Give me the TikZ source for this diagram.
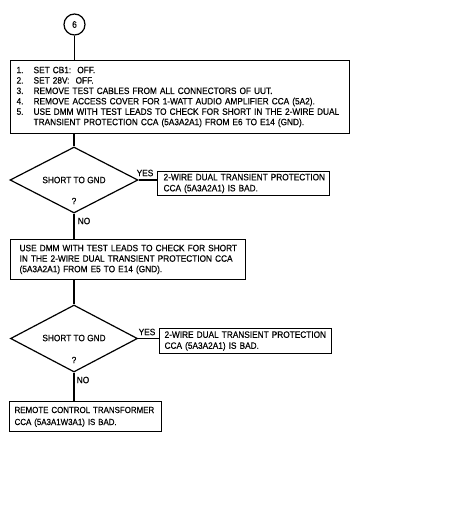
\documentclass[tikz,border=0pt]{standalone}
\usepackage{fontspec}
\setmainfont[FakeStretch=0.9,FakeBold=0.4]{Liberation Sans}
\usetikzlibrary{shapes.geometric}
\begin{document}
\begin{tikzpicture}[x=1pt,y=-1pt,
  txt/.style={font=\fontsize{9.2}{10.4}\selectfont},
  box/.style={draw, line width=1.2pt, anchor=north west, inner ysep=0pt, align=left, txt},
  dia/.style={draw, diamond, line width=1.2pt, inner sep=0pt},
  lbl/.style={inner sep=0pt, txt},
  conn/.style={line width=1.2pt}]
\useasboundingbox (0,0) rectangle (474,509);

\node[draw, circle, line width=1.2pt, minimum size=21pt, inner sep=0pt, font=\fontsize{9.5}{10}\selectfont] (c6) at (74.5,24.5) {6};

\node[box, inner xsep=6pt, text width=327pt, minimum height=73pt] (b1) at (10,60)
 {\begin{tabular}{@{}p{17pt}@{}l@{}}
 1. & SET CB1:\ \ OFF.\\
 2. & SET 28V:\ \ OFF.\\
 3. & REMOVE TEST CABLES FROM ALL CONNECTORS OF UUT.\\
 4. & REMOVE ACCESS COVER FOR 1-WATT AUDIO AMPLIFIER CCA (5A2).\\
 5. & USE DMM WITH TEST LEADS TO CHECK FOR SHORT IN THE 2-WIRE DUAL\\
    & TRANSIENT PROTECTION CCA (5A3A2A1) FROM E6 TO E14 (GND).
 \end{tabular}};

\node[dia, minimum width=128pt, minimum height=66pt] (d1) at (74,180) {};
\node[lbl] (d1t) at (74,180) {SHORT TO GND};
\node[lbl] (d1q) at (74,201) {?};
\node[lbl] (yes1) at (145,173) {YES};
\node[lbl] (no1) at (84,221) {NO};

\node[box, inner xsep=6pt, text width=160pt, minimum height=24pt, font=\fontsize{9.2}{11}\selectfont] (y1) at (157,171)
 {\begin{tabular}{@{}l@{}}
 2-WIRE DUAL TRANSIENT PROTECTION\\
 CCA (5A3A2A1) IS BAD.
 \end{tabular}};

\node[box, inner xsep=9pt, text width=217pt, minimum height=40pt, font=\fontsize{9.2}{10.5}\selectfont] (b2) at (10,239)
 {\begin{tabular}{@{}l@{}}
 USE DMM WITH TEST LEADS TO CHECK FOR SHORT\\
 IN THE 2-WIRE DUAL TRANSIENT PROTECTION CCA\\
 (5A3A2A1) FROM E5 TO E14 (GND).
 \end{tabular}};

\node[dia, minimum width=127pt, minimum height=67pt] (d2) at (74,338.5) {};
\node[lbl] (d2t) at (74,338) {SHORT TO GND};
\node[lbl] (d2q) at (74,360) {?};
\node[lbl] (yes2) at (147,332) {YES};
\node[lbl] (no2) at (83,380) {NO};

\node[box, inner xsep=5pt, text width=162pt, minimum height=25pt, font=\fontsize{9.2}{11}\selectfont] (y2) at (159,328)
 {\begin{tabular}{@{}l@{}}
 2-WIRE DUAL TRANSIENT PROTECTION\\
 CCA (5A3A2A1) IS BAD.
 \end{tabular}};

\node[box, inner xsep=5pt, text width=142pt, minimum height=30pt, font=\fontsize{8.8}{12}\selectfont] (b3) at (9,401)
 {\begin{tabular}{@{}l@{}}
 REMOTE CONTROL TRANSFORMER\\
 CCA (5A3A1W3A1) IS BAD.
 \end{tabular}};

\draw[conn] (c6.south) -- (c6.south |- b1.north);
\draw[conn] (b1.south -| d1.north) -- (d1.north);
\draw[conn] (d1.east) -- (d1.east -| y1.west);
\draw[conn] (d1.south) -- (d1.south |- b2.north);
\draw[conn] (b2.south -| d2.north) -- (d2.north);
\draw[conn] (d2.east) -- (d2.east -| y2.west);
\draw[conn] (d2.south) -- (d2.south |- b3.north);
\end{tikzpicture}
\end{document}
